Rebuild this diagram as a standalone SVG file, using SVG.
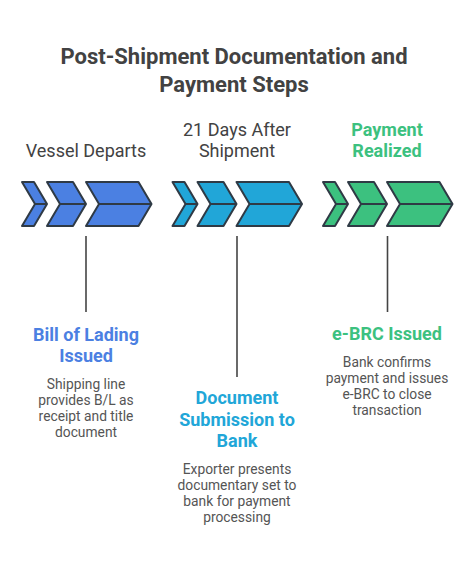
<svg xmlns="http://www.w3.org/2000/svg" width="474" height="571" viewBox="0 0 474 571">
<style>
.title{font-family:Roboto,"Liberation Sans",sans-serif;font-weight:bold;font-size:22px;fill:#424242;text-anchor:middle}
.head{font-family:Roboto,"Liberation Sans",sans-serif;font-size:18px;fill:#424242;text-anchor:middle}
.lbl{font-family:Roboto,"Liberation Sans",sans-serif;font-weight:bold;font-size:18px;text-anchor:middle}
.desc{font-family:Roboto,"Liberation Sans",sans-serif;font-size:13.8px;fill:#555555;text-anchor:middle}
.chev{stroke:#2f3a45;stroke-width:2;stroke-linejoin:round}
.mid{stroke:#2f3a45;stroke-width:2}
.conn{stroke:#444444;stroke-width:1.6}
.blue{fill:#4b80e2}.cyan{fill:#21a6d8}.green{fill:#3cc17f}
</style>
<defs>
<g id="chevs">
<path class="chev" d="M22,182 L34,182 L47,204 L34,226 L22,226 L35,204 Z"/>
<path class="chev" d="M47,182 L73,182 L86,204 L73,226 L47,226 L60,204 Z"/>
<path class="chev" d="M86,182 L138.5,182 L151.5,204 L138.5,226 L86,226 L99,204 Z"/>
<path class="mid" d="M35,204 H47 M60,204 H86 M99,204 H151.5"/>
</g>
</defs>
<text class="title" x="234" y="63.5">Post-Shipment Documentation and</text>
<text class="title" x="234" y="91.5">Payment Steps</text>
<g id="connectors">
<line class="conn" x1="86" y1="236" x2="86" y2="312"/>
<line class="conn" x1="237" y1="236" x2="237" y2="377"/>
<line class="conn" x1="387.5" y1="236" x2="387.5" y2="312"/>
</g>
<g id="step1">
<text class="head" x="86" y="156.5">Vessel Departs</text>
<use href="#chevs" class="blue"/>
<text class="lbl" x="86" y="340.5" fill="#4b80e2">Bill of Lading</text>
<text class="lbl" x="86" y="361.5" fill="#4b80e2">Issued</text>
<text class="desc" x="86" y="388.5">Shipping line</text>
<text class="desc" x="86" y="404.5">provides B/L as</text>
<text class="desc" x="86" y="420.5">receipt and title</text>
<text class="desc" x="86" y="436.5">document</text>
</g>
<g id="step2">
<text class="head" x="237" y="136">21 Days After</text>
<text class="head" x="237" y="156.5">Shipment</text>
<use href="#chevs" class="cyan" x="150.5"/>
<text class="lbl" x="237" y="404" fill="#21a6d8">Document</text>
<text class="lbl" x="237" y="425.5" fill="#21a6d8">Submission to</text>
<text class="lbl" x="237" y="446.5" fill="#21a6d8">Bank</text>
<text class="desc" x="237" y="473.5">Exporter presents</text>
<text class="desc" x="237" y="489.5">documentary set to</text>
<text class="desc" x="237" y="505.5">bank for payment</text>
<text class="desc" x="237" y="521.5">processing</text>
</g>
<g id="step3">
<text class="lbl" x="387" y="136" fill="#3cc17f">Payment</text>
<text class="lbl" x="387" y="156.5" fill="#3cc17f">Realized</text>
<use href="#chevs" class="green" x="301"/>
<text class="lbl" x="387" y="340" fill="#3cc17f">e-BRC Issued</text>
<text class="desc" x="387" y="366.5">Bank confirms</text>
<text class="desc" x="387" y="382.5">payment and issues</text>
<text class="desc" x="387" y="398.5">e-BRC to close</text>
<text class="desc" x="387" y="414.5">transaction</text>
</g>
</svg>
